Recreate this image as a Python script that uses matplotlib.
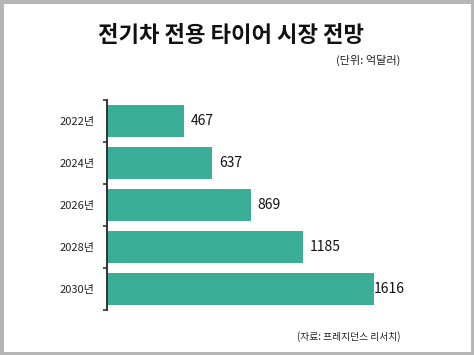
import matplotlib
matplotlib.use("Agg")
import matplotlib.pyplot as plt
from matplotlib.patches import Rectangle

plt.rcParams['font.family'] = ['Noto Sans CJK KR', 'DejaVu Sans']

years = ["2022년", "2024년", "2026년", "2028년", "2030년"]
values = [467, 637, 869, 1185, 1616]
title = "전기차 전용 타이어 시장 전망"
unit = "(단위: 억달러)"
source = "(자료: 프레지던스 리서치)"

bar_color = "#3aae97"

fig = plt.figure(figsize=(4.74, 3.55), dpi=100)
fig.patch.set_facecolor("white")
ax = fig.add_axes([0.2257, 0.1268, 0.6624, 0.5915])

pos = list(range(len(years)))
ax.barh(pos, values, height=0.74, color=bar_color)
ax.set_ylim(len(years) - 0.5, -0.5)
ax.set_xlim(0, 1900)

for i, v in enumerate(values):
    pad = 0 if i == len(values) - 1 else 5
    ax.annotate(str(v), xy=(v, i), xytext=(pad, 0), textcoords="offset points",
                va="center", ha="left", fontsize=10, color="#111111")

ax.set_yticks(pos)
ax.set_yticklabels(years, fontsize=8, color="#222222")
ax.tick_params(axis="y", which="major", length=0, pad=9)
ax.set_yticks([p - 0.5 for p in pos] + [len(years) - 0.5], minor=True)
ax.tick_params(axis="y", which="minor", length=3, width=1.2, color="#333333")
ax.set_xticks([])
for s in ["top", "right", "bottom"]:
    ax.spines[s].set_visible(False)
ax.spines["left"].set_color("#333333")
ax.spines["left"].set_linewidth(1.4)

fig.text(0.488, 0.90, title, ha="center", va="center", fontsize=16, fontweight="bold", color="#111111")
fig.text(0.845, 0.830, unit, ha="right", va="center", fontsize=8, color="#222222")
fig.text(0.845, 0.052, source, ha="right", va="center", fontsize=7, color="#222222")

fig.patches.append(Rectangle((0, 0), 1, 1, transform=fig.transFigure, fill=False,
                             edgecolor="#b5b5b5", linewidth=5, zorder=10))

fig.savefig("out.png", dpi=100)
